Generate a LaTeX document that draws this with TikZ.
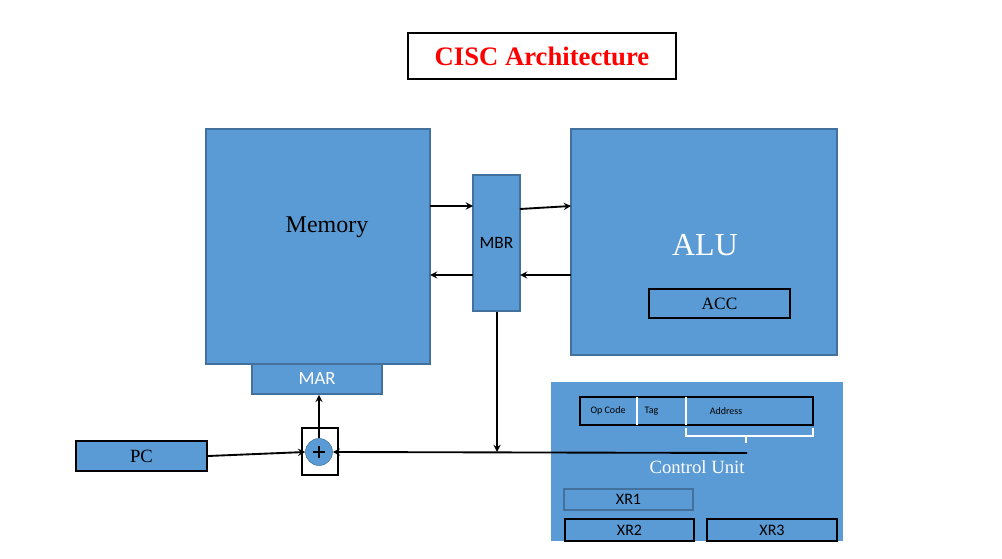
\documentclass[tikz,border=0pt]{standalone}
\usepackage{fontspec}
\setmainfont{Liberation Serif}
\newfontfamily\sansf{Carlito}
\definecolor{boxblue}{HTML}{5B9BD5}
\definecolor{edgeblue}{HTML}{41719C}
\tikzset{
  unit/.style={draw=edgeblue, line width=1.2pt, fill=boxblue, minimum width=#1, inner sep=0pt},
  reg/.style={draw=black, line width=1.6pt, fill=boxblue, inner sep=0pt},
  link/.style={line width=1.4pt, -stealth}
}
\begin{document}
\begin{tikzpicture}[x=0.75pt, y=-0.75pt]
  \useasboundingbox (0,0) rectangle (1002,559);

  % Titel
  \node [draw, line width=1.4pt, minimum width=268*0.75pt, minimum height=46*0.75pt, text=red, font=\bfseries\fontsize{20}{22}\selectfont] (title) at (542,56) {CISC Architecture};

  % Speicher und Register
  \node [unit=224*0.75pt, minimum height=235*0.75pt] (mem) at (318,246.5) {};
  \node [font=\fontsize{18}{20}\selectfont] at (327,227) {Memory};
  \node [unit=130*0.75pt, minimum height=30*0.75pt, text=white, font=\sansf\fontsize{14}{15}\selectfont] (mar) at (317,379) {MAR};
  \node [unit=47*0.75pt, minimum height=136*0.75pt, font=\sansf\fontsize{13}{14}\selectfont] (mbr) at (496.5,243) {MBR};
  \node [unit=266*0.75pt, minimum height=226*0.75pt] (alu) at (704,242) {};
  \node [text=white, font=\fontsize{24}{26}\selectfont] at (705,245) {ALU};
  \node [reg, minimum width=141*0.75pt, minimum height=29*0.75pt, font=\fontsize{13}{15}\selectfont] (acc) at (719.5,303.5) {ACC};

  % Steuerwerk
  \fill [boxblue] (551,382) rectangle (843,541);
  \draw [line width=1.6pt] (580,397) rectangle (813,425);
  \draw [white, line width=1.4pt] (637,397) -- (637,425) (686,397) -- (686,425);
  \node [font=\sansf\fontsize{7.5}{8}\selectfont] at (608,411) {Op Code};
  \node [font=\sansf\fontsize{7.5}{8}\selectfont, anchor=west] at (640,411) {Tag};
  \node [font=\sansf\fontsize{7.5}{8}\selectfont] at (726,411) {Address};
  \draw [white, line width=1.4pt] (686,428) -- (686,436) -- (813,436) -- (813,428) (746,436) -- (746,443);
  \coordinate (cuend) at (747,453);
  \node [text=white, font=\fontsize{14}{16}\selectfont] at (697,467) {Control Unit};
  \node [draw=edgeblue, line width=1.6pt, fill=boxblue, minimum width=129*0.75pt, minimum height=21*0.75pt, font=\sansf\fontsize{12}{13}\selectfont] (xr1) at (628.5,499.5) {XR1};
  \node [reg, minimum width=129*0.75pt, minimum height=22*0.75pt, font=\sansf\fontsize{12}{13}\selectfont] (xr2) at (629.5,530) {XR2};
  \node [reg, minimum width=130*0.75pt, minimum height=22*0.75pt, font=\sansf\fontsize{12}{13}\selectfont] (xr3) at (772,530) {XR3};

  % PC und Addierer
  \node [reg, minimum width=131*0.75pt, minimum height=30*0.75pt, font=\fontsize{14}{15}\selectfont] (pc) at (141.5,456) {PC};
  \node [draw, line width=1.6pt, minimum width=36*0.75pt, minimum height=47*0.75pt] (addbox) at (320,451.5) {};
  \node [circle, draw=edgeblue, fill=boxblue, minimum size=27*0.75pt, inner sep=0pt] (add) at (319,452) {};
  \draw [line width=1.3pt] (add.center) ++(-6,0) -- ++(12,0) (add.center) ++(0,-6) -- ++(0,12);

  % Verbindungen
  \draw [link] (430,206) -- (473,206);
  \draw [link] (520,209) -- (571,206);
  \draw [link] (571,275) -- (520,275);
  \draw [link] (473,275) -- (430,275);
  \draw [link] (mbr.south -| 497,0) -- (497,452);
  \draw [link] (pc.east) -- (add.west);
  \draw [link] (cuend) -- (add.east);
  \draw [link] (add.north) -- (add.north |- mar.south);
\end{tikzpicture}
\end{document}
